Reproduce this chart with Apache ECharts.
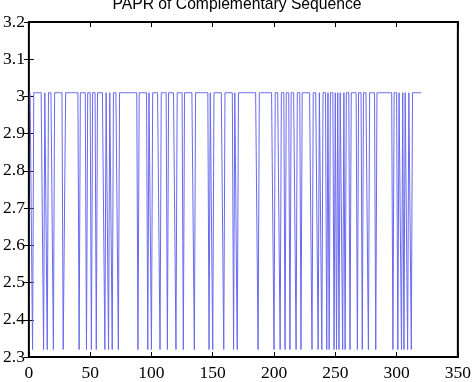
<!DOCTYPE html>
<html>
<head>
<meta charset="utf-8">
<script src="https://cdn.jsdelivr.net/npm/echarts@6/dist/echarts.min.js"></script>
<style>html,body{margin:0;padding:0;background:#fff}#c{width:474px;height:382px}</style>
</head>
<body>
<div id="c"></div>
<script>
const titleText = 'PAPR of Complementary Sequence';
const xTicks = [0, 50, 100, 150, 200, 250, 300, 350];
const yTicks = [2.3, 2.4, 2.5, 2.6, 2.7, 2.8, 2.9, 3.0, 3.1, 3.2];
const papr = [
3.01,3.01,2.32,3.01,3.01,3.01,3.01,3.01,3.01,3.01,3.01,2.32,3.01,3.01,2.32,3.01,3.01,3.01,3.01,2.32,
3.01,3.01,3.01,3.01,3.01,3.01,3.01,2.32,2.32,3.01,3.01,3.01,3.01,3.01,3.01,3.01,3.01,3.01,3.01,3.01,
2.32,3.01,3.01,3.01,3.01,3.01,2.32,3.01,3.01,3.01,2.32,3.01,3.01,3.01,2.32,3.01,3.01,3.01,3.01,3.01,
3.01,2.32,3.01,3.01,2.32,3.01,3.01,2.32,3.01,3.01,3.01,3.01,2.32,3.01,3.01,3.01,3.01,3.01,3.01,3.01,
3.01,3.01,3.01,3.01,3.01,3.01,3.01,3.01,2.32,3.01,3.01,3.01,3.01,3.01,3.01,3.01,2.32,3.01,3.01,2.32,
3.01,3.01,3.01,3.01,3.01,3.01,2.32,3.01,3.01,3.01,3.01,3.01,2.32,3.01,3.01,3.01,3.01,3.01,3.01,2.32,
3.01,3.01,3.01,3.01,3.01,2.32,3.01,3.01,3.01,3.01,3.01,3.01,3.01,3.01,2.32,3.01,3.01,3.01,3.01,3.01,
3.01,3.01,3.01,3.01,3.01,3.01,2.32,3.01,3.01,2.32,3.01,3.01,3.01,3.01,3.01,3.01,3.01,3.01,2.32,3.01,
3.01,3.01,3.01,3.01,3.01,3.01,2.32,3.01,3.01,2.32,3.01,3.01,3.01,3.01,3.01,3.01,3.01,3.01,3.01,3.01,
3.01,3.01,3.01,3.01,3.01,3.01,2.32,3.01,3.01,3.01,3.01,3.01,3.01,3.01,3.01,3.01,3.01,3.01,3.01,2.32,
3.01,3.01,3.01,3.01,2.32,3.01,3.01,3.01,2.32,3.01,3.01,3.01,2.32,3.01,3.01,3.01,3.01,2.32,3.01,3.01,
3.01,2.32,3.01,3.01,3.01,3.01,3.01,3.01,3.01,3.01,2.32,3.01,3.01,3.01,3.01,2.32,3.01,3.01,2.32,3.01,
3.01,3.01,2.32,3.01,2.32,3.01,3.01,3.01,2.32,3.01,2.32,3.01,2.32,3.01,3.01,2.32,3.01,2.32,3.01,3.01,
3.01,2.32,3.01,3.01,3.01,3.01,3.01,2.32,3.01,3.01,3.01,2.32,3.01,3.01,3.01,3.01,2.32,3.01,3.01,3.01,
3.01,3.01,2.32,3.01,3.01,3.01,3.01,3.01,3.01,3.01,3.01,3.01,3.01,3.01,3.01,3.01,2.32,3.01,3.01,3.01,
2.32,3.01,3.01,2.32,3.01,2.32,3.01,3.01,2.32,3.01,3.01,2.32,3.01,3.01,3.01,3.01,3.01,3.01,3.01,3.01
];
const seqIndex = papr.map((v, i) => i + 1);

const chart = echarts.init(document.getElementById('c'), null, {renderer: 'canvas'});
const tickFont = {fontFamily: 'Liberation Serif', fontSize: 17.5, color: '#000'};
const yFmt = v => { const r = Math.round(v * 10) / 10; return yTicks.some(t => Math.abs(t - r) < 1e-6) ? String(parseFloat(r.toFixed(1))) : ''; };
const xFmt = v => xTicks.indexOf(Math.round(v)) >= 0 ? String(Math.round(v)) : '';
option = {
  animation: false,
  backgroundColor: '#fff',
  title: {
    text: titleText, left: 'center', top: -8,
    textStyle: {fontFamily: 'Liberation Sans', fontSize: 15.7, fontWeight: 'normal', color: '#000'}
  },
  grid: {left: 27, right: 13, top: 22, bottom: 20, show: true, borderColor: '#000', borderWidth: 2, backgroundColor: '#fff'},
  xAxis: [
    {type: 'value', min: xTicks[0], max: xTicks[xTicks.length - 1], interval: 50, position: 'bottom',
     axisLine: {show: false}, splitLine: {show: false},
     axisTick: {show: true, inside: true, length: 5, lineStyle: {color: '#000', width: 1}},
     axisLabel: Object.assign({margin: 7, formatter: xFmt, showMaxLabel: true, showMinLabel: true}, tickFont)},
    {type: 'value', min: xTicks[0], max: xTicks[xTicks.length - 1], interval: 50, position: 'top',
     axisLine: {show: false}, splitLine: {show: false},
     axisTick: {show: true, inside: true, length: 5, lineStyle: {color: '#000', width: 1}},
     axisLabel: {show: false}}
  ],
  yAxis: [
    {type: 'value', min: 2.3, max: 3.2, interval: 0.1, position: 'left',
     axisLine: {show: false}, splitLine: {show: false},
     axisTick: {show: true, inside: true, length: 5, lineStyle: {color: '#000', width: 1}},
     axisLabel: Object.assign({margin: 4, formatter: yFmt, showMaxLabel: true, showMinLabel: true}, tickFont)},
    {type: 'value', min: 2.3, max: 3.2, interval: 0.1, position: 'right',
     axisLine: {show: false}, splitLine: {show: false},
     axisTick: {show: true, inside: true, length: 5, lineStyle: {color: '#000', width: 1}},
     axisLabel: {show: false}}
  ],
  series: [{
    type: 'line', xAxisIndex: 0, yAxisIndex: 0,
    data: seqIndex.map((x, i) => [x, papr[i]]),
    showSymbol: false, symbol: 'none',
    lineStyle: {color: '#6a6af0', width: 1},
    z: 1
  }]
};
chart.setOption(option);
</script>
</body>
</html>
